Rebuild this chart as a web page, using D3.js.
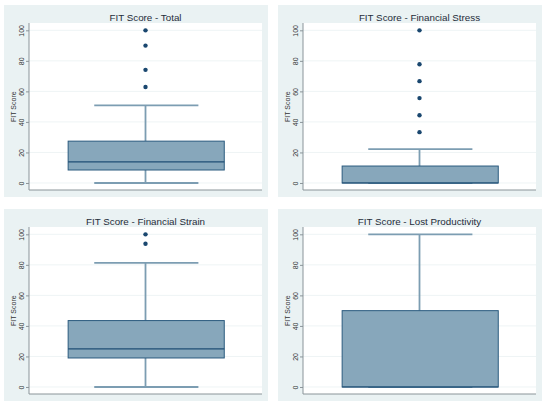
<!DOCTYPE html>
<html>
<head>
<meta charset="utf-8">
<script src="https://cdnjs.cloudflare.com/ajax/libs/d3/7.8.5/d3.min.js"></script>
<style>
  body { margin: 0; background: #fff; }
  svg text { font-family: "Liberation Sans", Arial, sans-serif; }
</style>
</head>
<body>
<div id="chart"></div>
<script>
/* Four Stata-style box plots of FIT scores */

const titles = ['FIT Score - Total', 'FIT Score - Financial Stress', 'FIT Score - Financial Strain', 'FIT Score - Lost Productivity'];
// [lower whisker, Q1, median, Q3, upper whisker]
const boxStats = [
  [0, 8.5, 13.8, 27.4, 50.8],
  [0, 0, 0, 11.1, 22.2],
  [0, 19.0, 25.0, 43.5, 81.3],
  [0, 0, 0, 50, 100]
];
const outliers = [
  [62.9, 74.1, 90, 100],
  [33.3, 44.4, 55.6, 66.7, 77.8, 100],
  [93.8, 100],
  []
];
const yTicks = [0, 20, 40, 60, 80, 100];

const W = 550, H = 407;
const svg = d3.select('#chart').append('svg').attr('width', W).attr('height', H);

const panelW = 264, panelH = 192;
const panelPos = [[4, 5], [278, 5], [4, 209], [278, 209]];
const margin = { top: 18, right: 6, bottom: 7, left: 25 };
const inner = { width: panelW - margin.left - margin.right, height: panelH - margin.top - margin.bottom };

titles.forEach((title, i) => {
  const [px, py] = panelPos[i];
  const panel = svg.append('g').attr('transform', `translate(${px},${py})`);

  panel.append('rect').attr('width', panelW).attr('height', panelH).attr('fill', '#eaf2f3');

  panel.append('text')
    .attr('x', margin.left + inner.width / 2).attr('y', 15.5)
    .attr('text-anchor', 'middle')
    .style('font-size', '9.8px').style('fill', '#1f2d3a')
    .text(title);

  const g = panel.append('g').attr('transform', `translate(${margin.left},${margin.top})`);
  g.append('rect').attr('width', inner.width).attr('height', inner.height).attr('fill', '#fff');

  const y = d3.scaleLinear().domain([-4.6, 104.8]).range([inner.height, 0]);
  const x = d3.scaleLinear().domain([0, 1]).range([0, inner.width]);

  // gridlines
  g.selectAll('.grid').data(yTicks).enter().append('line')
    .attr('x1', 0).attr('x2', inner.width)
    .attr('y1', d => y(d)).attr('y2', d => y(d))
    .attr('stroke', '#eef4f5').attr('stroke-width', 1);

  // axes
  const ax = g.append('g').call(d3.axisLeft(y).tickValues(yTicks).tickSize(3).tickPadding(2));
  ax.select('.domain').attr('stroke', '#8a9499').attr('d', `M0,0V${inner.height}`);
  ax.selectAll('.tick line').attr('stroke', '#8a9499');
  ax.selectAll('.tick text')
    .attr('transform', 'rotate(-90)')
    .attr('x', 0).attr('y', -5)
    .attr('dy', 0)
    .attr('text-anchor', 'middle')
    .style('font-size', '7px').style('fill', '#333');
  g.append('line').attr('x1', 0).attr('x2', inner.width)
    .attr('y1', inner.height).attr('y2', inner.height)
    .attr('stroke', '#8a9499');

  g.append('text')
    .attr('transform', `translate(-13,${y(50)}) rotate(-90)`)
    .attr('text-anchor', 'middle')
    .style('font-size', '7px').style('fill', '#333')
    .text('FIT Score');

  const [lo, q1, med, q3, hi] = boxStats[i];
  const cx = x(0.5);
  const bx0 = x(0.168), bx1 = x(0.838);
  const cap0 = x(0.28), cap1 = x(0.727);

  // whiskers
  const wcol = '#7c9db2';
  g.append('line').attr('x1', cx).attr('x2', cx).attr('y1', y(q3)).attr('y2', y(hi))
    .attr('stroke', wcol).attr('stroke-width', 1.8);
  g.append('line').attr('x1', cx).attr('x2', cx).attr('y1', y(q1)).attr('y2', y(lo))
    .attr('stroke', wcol).attr('stroke-width', 1.8);
  g.append('line').attr('x1', cap0).attr('x2', cap1).attr('y1', y(hi)).attr('y2', y(hi))
    .attr('stroke', wcol).attr('stroke-width', 1.8);
  g.append('line').attr('x1', cap0).attr('x2', cap1).attr('y1', y(lo)).attr('y2', y(lo))
    .attr('stroke', wcol).attr('stroke-width', 1.8);

  // box
  g.append('rect')
    .attr('x', bx0).attr('y', y(q3))
    .attr('width', bx1 - bx0).attr('height', Math.max(y(q1) - y(q3), 0.5))
    .attr('fill', '#87a7bb').attr('stroke', '#2a5a7e').attr('stroke-width', 1);
  g.append('line').attr('x1', bx0).attr('x2', bx1).attr('y1', y(med)).attr('y2', y(med))
    .attr('stroke', '#1f4e74').attr('stroke-width', 1.2);

  // outliers
  g.selectAll('.dot').data(outliers[i]).enter().append('circle')
    .attr('cx', cx).attr('cy', d => y(d)).attr('r', 2.2)
    .attr('fill', '#1a476f');
});
</script>
</body>
</html>
